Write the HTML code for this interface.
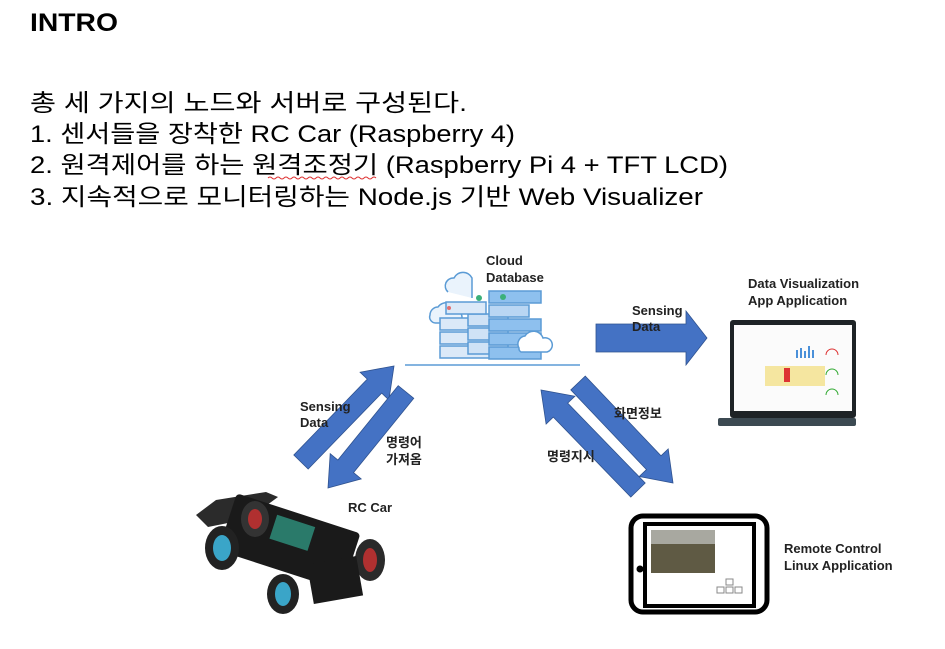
<!DOCTYPE html>
<html><head><meta charset="utf-8"><style>
html,body{margin:0;padding:0;background:#fff;width:945px;height:649px;overflow:hidden}
svg{display:block}
.t{font-family:"Liberation Sans","Noto Sans CJK KR",sans-serif;fill:#000}
.b{font-family:"Liberation Sans","Noto Sans CJK KR",sans-serif;font-weight:bold;fill:#222;font-size:13px}
</style></head><body>
<svg width="945" height="649" viewBox="0 0 945 649" xmlns="http://www.w3.org/2000/svg">
<text class="t" x="30" y="31" font-size="25" font-weight="bold" textLength="88" lengthAdjust="spacingAndGlyphs">INTRO</text>
<text class="t" x="30" y="111" font-size="24" textLength="437" lengthAdjust="spacingAndGlyphs">총 세 가지의 노드와 서버로 구성된다.</text>
<text class="t" x="30" y="142" font-size="24" textLength="485" lengthAdjust="spacingAndGlyphs">1.  센서들을 장착한 RC Car (Raspberry 4)</text>
<text class="t" x="30" y="173" font-size="24" textLength="698" lengthAdjust="spacingAndGlyphs">2.  원격제어를 하는 원격조정기 (Raspberry Pi 4 + TFT LCD)</text>
<path d="M268 178 q2 -2 4 0 t4 0 t4 0 t4 0 t4 0 t4 0 t4 0 t4 0 t4 0 t4 0 t4 0 t4 0 t4 0 t4 0 t4 0 t4 0 t4 0 t4 0 t4 0 t4 0 t4 0 t4 0 t4 0 t4 0 t4 0 t4 0 t4 0" stroke="#d33" stroke-width="1" fill="none"/>
<text class="t" x="30" y="205" font-size="24" textLength="673" lengthAdjust="spacingAndGlyphs">3.  지속적으로 모니터링하는 Node.js 기반 Web Visualizer</text>

<!-- server icon -->
<g stroke="#5b9bd5" stroke-width="1.5" fill="#eaf3fc">
<path d="M430 315 a8 8 0 0 1 8 -8 a10 10 0 0 1 18 4 a6 6 0 0 1 0 12 h-20 a6 6 0 0 1 -6 -8z"/>
<path d="M448 292 a8 8 0 0 1 6 -14 a10 10 0 0 1 18 0 v20"/>
<rect x="440" y="318" width="52" height="12" fill="#dbe9f8"/>
<rect x="440" y="332" width="52" height="12" fill="#dbe9f8"/>
<rect x="440" y="346" width="52" height="12" fill="#dbe9f8"/>
<rect x="468" y="314" width="40" height="12" fill="#cfe2f6"/>
<rect x="468" y="328" width="40" height="12" fill="#cfe2f6"/>
<rect x="468" y="342" width="40" height="12" fill="#cfe2f6"/>
<rect x="489" y="305" width="40" height="12" fill="#b9d6f3"/>
<rect x="489" y="291" width="52" height="12" fill="#8ec0ee"/>
<rect x="489" y="319" width="52" height="12" fill="#8ec0ee"/>
<rect x="489" y="333" width="52" height="12" fill="#8ec0ee"/>
<rect x="489" y="347" width="52" height="12" fill="#8ec0ee"/>
<rect x="446" y="302" width="40" height="12" fill="#dbe9f8"/>
<path d="M519 348 a8 8 0 0 1 6 -12 a10 10 0 0 1 18 2 a7 7 0 0 1 4 14 h-26 a4 4 0 0 1 -2 -4z" fill="#fff"/>
</g>
<circle cx="449" cy="308" r="2" fill="#e07070"/>
<circle cx="479" cy="298" r="3" fill="#3bb07a"/>
<circle cx="503" cy="297" r="3" fill="#3bb07a"/>
<line x1="405" y1="365" x2="580" y2="365" stroke="#5b9bd5" stroke-width="1.5"/>
<text class="b" x="486" y="265">Cloud</text>
<text class="b" x="486" y="282">Database</text>

<!-- arrows -->
<g fill="#4472c4" stroke="#2f528f" stroke-width="0.8">
<polygon points="596,324 686,324 686,311 707,338 686,365 686,352 596,352"/>
<polygon points="308.2,469 381.7,393.1 388.9,400 394,366 360.1,372.2 367.3,379.1 293.8,455"/>
<polygon points="413.8,398.3 353.5,472.6 361.2,478.9 328,488 330.2,453.7 337.9,460 398.2,385.7"/>
<polygon points="645.2,483 567.7,403.1 574.9,396.2 541,390 546.1,424 553.3,417.1 630.8,497"/>
<polygon points="585.3,376.1 661,455.8 668.2,448.9 673,483 639.2,476.5 646.5,469.6 570.8,389.9"/>
</g>
<text class="b" x="632" y="315">Sensing</text>
<text class="b" x="632" y="331">Data</text>
<text class="b" x="300" y="411">Sensing</text>
<text class="b" x="300" y="427">Data</text>
<text class="b" x="386" y="447">명령어</text>
<text class="b" x="386" y="464">가져옴</text>
<text class="b" x="547" y="461">명령지시</text>
<text class="b" x="614" y="418">화면정보</text>
<text class="b" x="348" y="512">RC Car</text>
<text class="b" x="748" y="288">Data Visualization</text>
<text class="b" x="748" y="305">App Application</text>
<text class="b" x="784" y="553">Remote Control</text>
<text class="b" x="784" y="570">Linux Application</text>

<!-- laptop -->
<rect x="730" y="320" width="126" height="98" rx="3" fill="#1e2326"/>
<rect x="734" y="325" width="118" height="86" fill="#fbfbfb"/>
<rect x="765" y="366" width="60" height="20" fill="#f5e6a0"/>
<rect x="784" y="368" width="6" height="14" fill="#d33"/>
<rect x="718" y="418" width="138" height="8" rx="2" fill="#3c4a52"/>
<g fill="#4a90d9"><rect x="796" y="350" width="2" height="8"/><rect x="800" y="348" width="2" height="10"/><rect x="804" y="351" width="2" height="7"/><rect x="808" y="346" width="2" height="12"/><rect x="812" y="350" width="2" height="8"/></g>
<path d="M826 355 a6 6 0 0 1 12 0" stroke="#d33" fill="none"/>
<path d="M826 375 a6 6 0 0 1 12 0" stroke="#3a3" fill="none"/>
<path d="M826 395 a6 6 0 0 1 12 0" stroke="#3a3" fill="none"/>

<!-- tablet -->
<rect x="631" y="516" width="136" height="96" rx="12" fill="#fff" stroke="#000" stroke-width="5"/>
<rect x="645" y="524" width="109" height="82" fill="#fff" stroke="#000" stroke-width="4"/>
<circle cx="640" cy="569" r="3.5" fill="#000"/>
<rect x="651" y="530" width="64" height="43" fill="#5f5a44"/>
<rect x="651" y="530" width="64" height="14" fill="#a8a8a0"/>
<g fill="#fff" stroke="#888" stroke-width="1"><rect x="726" y="579" width="7" height="6"/><rect x="717" y="587" width="7" height="6"/><rect x="726" y="587" width="7" height="6"/><rect x="735" y="587" width="7" height="6"/></g>

<!-- RC car -->
<g>
<path d="M196 515 l20 -15 l50 -8 l12 5 l-30 22 l-40 8z" fill="#2b2b2b"/>
<rect x="225" y="512" width="130" height="60" rx="4" fill="#1a1a1a" transform="rotate(18 290 540)"/>
<rect x="270" y="520" width="40" height="25" fill="#2a7a6a" transform="rotate(18 290 540)"/>
<ellipse cx="222" cy="548" rx="17" ry="22" fill="#222"/><ellipse cx="222" cy="548" rx="9" ry="13" fill="#3aa5c8"/>
<ellipse cx="255" cy="519" rx="14" ry="18" fill="#333"/><ellipse cx="255" cy="519" rx="7" ry="10" fill="#b03030"/>
<ellipse cx="370" cy="560" rx="15" ry="21" fill="#2a2a2a"/><ellipse cx="370" cy="560" rx="7" ry="12" fill="#b03030"/>
<ellipse cx="283" cy="594" rx="16" ry="20" fill="#222"/><ellipse cx="283" cy="594" rx="8" ry="12" fill="#3aa5c8"/>
<rect x="310" y="560" width="50" height="40" fill="#1a1a1a" transform="rotate(-10 335 580)"/>
</g>
</svg>
</body></html>
